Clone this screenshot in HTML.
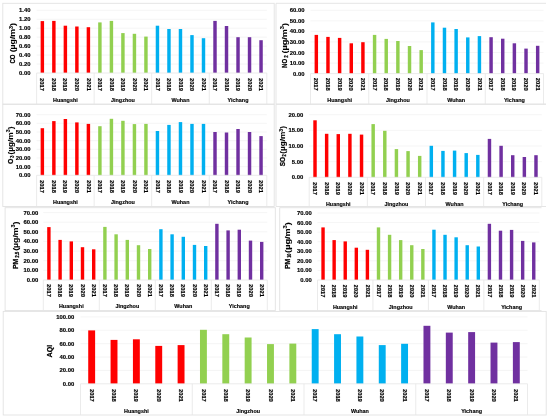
<!DOCTYPE html>
<html><head><meta charset="utf-8"><title>Air quality charts</title>
<style>
html,body{margin:0;padding:0;background:#fff;}
svg{display:block;}
text{font-family:"Liberation Sans","DejaVu Sans",sans-serif;font-weight:bold;fill:#000;stroke:#000;stroke-width:0.15px;}
.tk{font-size:5.9px;text-anchor:end;}
.yr{font-size:5.8px;text-anchor:middle;}
.gp{font-size:5.9px;text-anchor:middle;}
.tt{text-anchor:start;fill:#000;stroke-width:0.25px;}
.un{stroke-width:0.1px;}
.sub,.sup{font-size:4.6px;}
</style></head><body>
<svg width="550" height="420" viewBox="0 0 550 420">
<rect x="0" y="0" width="550" height="420" fill="#fff"/>

<g>
<rect x="2.80" y="3.30" width="271.40" height="100.90" fill="none" stroke="#e2e2e2" stroke-width="0.9"/>
<line x1="36.60" y1="64.04" x2="266.80" y2="64.04" stroke="#f0f0f0" stroke-width="0.7"/>
<line x1="36.60" y1="55.09" x2="266.80" y2="55.09" stroke="#f0f0f0" stroke-width="0.7"/>
<line x1="36.60" y1="46.13" x2="266.80" y2="46.13" stroke="#f0f0f0" stroke-width="0.7"/>
<line x1="36.60" y1="37.17" x2="266.80" y2="37.17" stroke="#f0f0f0" stroke-width="0.7"/>
<line x1="36.60" y1="28.21" x2="266.80" y2="28.21" stroke="#f0f0f0" stroke-width="0.7"/>
<line x1="36.60" y1="19.26" x2="266.80" y2="19.26" stroke="#f0f0f0" stroke-width="0.7"/>
<line x1="36.60" y1="10.30" x2="266.80" y2="10.30" stroke="#f0f0f0" stroke-width="0.7"/>
<text class="tk" x="30.50" y="75.00">0.00</text>
<text class="tk" x="30.50" y="66.04">0.20</text>
<text class="tk" x="30.50" y="57.09">0.40</text>
<text class="tk" x="30.50" y="48.13">0.60</text>
<text class="tk" x="30.50" y="39.17">0.80</text>
<text class="tk" x="30.50" y="30.21">1.00</text>
<text class="tk" x="30.50" y="21.26">1.20</text>
<text class="tk" x="30.50" y="12.30">1.40</text>
<rect x="40.63" y="21.10" width="3.45" height="51.90" fill="#FF0000"/>
<text class="yr" transform="translate(40.46,84.50) rotate(90)" x="0" y="0">2017</text>
<rect x="52.14" y="20.90" width="3.45" height="52.10" fill="#FF0000"/>
<text class="yr" transform="translate(51.97,84.50) rotate(90)" x="0" y="0">2018</text>
<rect x="63.65" y="25.70" width="3.45" height="47.30" fill="#FF0000"/>
<text class="yr" transform="translate(63.48,84.50) rotate(90)" x="0" y="0">2019</text>
<rect x="75.16" y="26.50" width="3.45" height="46.50" fill="#FF0000"/>
<text class="yr" transform="translate(74.98,84.50) rotate(90)" x="0" y="0">2020</text>
<rect x="86.67" y="27.20" width="3.45" height="45.80" fill="#FF0000"/>
<text class="yr" transform="translate(86.50,84.50) rotate(90)" x="0" y="0">2021</text>
<rect x="98.18" y="22.40" width="3.45" height="50.60" fill="#92D050"/>
<text class="yr" transform="translate(98.00,84.50) rotate(90)" x="0" y="0">2017</text>
<rect x="109.69" y="20.90" width="3.45" height="52.10" fill="#92D050"/>
<text class="yr" transform="translate(109.51,84.50) rotate(90)" x="0" y="0">2018</text>
<rect x="121.20" y="33.10" width="3.45" height="39.90" fill="#92D050"/>
<text class="yr" transform="translate(121.03,84.50) rotate(90)" x="0" y="0">2019</text>
<rect x="132.71" y="33.80" width="3.45" height="39.20" fill="#92D050"/>
<text class="yr" transform="translate(132.53,84.50) rotate(90)" x="0" y="0">2020</text>
<rect x="144.22" y="36.60" width="3.45" height="36.40" fill="#92D050"/>
<text class="yr" transform="translate(144.04,84.50) rotate(90)" x="0" y="0">2021</text>
<rect x="155.73" y="25.70" width="3.45" height="47.30" fill="#00B0F0"/>
<text class="yr" transform="translate(155.56,84.50) rotate(90)" x="0" y="0">2017</text>
<rect x="167.24" y="29.00" width="3.45" height="44.00" fill="#00B0F0"/>
<text class="yr" transform="translate(167.06,84.50) rotate(90)" x="0" y="0">2018</text>
<rect x="178.75" y="29.00" width="3.45" height="44.00" fill="#00B0F0"/>
<text class="yr" transform="translate(178.57,84.50) rotate(90)" x="0" y="0">2019</text>
<rect x="190.26" y="35.10" width="3.45" height="37.90" fill="#00B0F0"/>
<text class="yr" transform="translate(190.08,84.50) rotate(90)" x="0" y="0">2020</text>
<rect x="201.77" y="38.20" width="3.45" height="34.80" fill="#00B0F0"/>
<text class="yr" transform="translate(201.59,84.50) rotate(90)" x="0" y="0">2021</text>
<rect x="213.28" y="20.90" width="3.45" height="52.10" fill="#7030A0"/>
<text class="yr" transform="translate(213.10,84.50) rotate(90)" x="0" y="0">2017</text>
<rect x="224.79" y="26.00" width="3.45" height="47.00" fill="#7030A0"/>
<text class="yr" transform="translate(224.61,84.50) rotate(90)" x="0" y="0">2018</text>
<rect x="236.30" y="37.20" width="3.45" height="35.80" fill="#7030A0"/>
<text class="yr" transform="translate(236.12,84.50) rotate(90)" x="0" y="0">2019</text>
<rect x="247.81" y="37.20" width="3.45" height="35.80" fill="#7030A0"/>
<text class="yr" transform="translate(247.63,84.50) rotate(90)" x="0" y="0">2020</text>
<rect x="259.32" y="40.20" width="3.45" height="32.80" fill="#7030A0"/>
<text class="yr" transform="translate(259.15,84.50) rotate(90)" x="0" y="0">2021</text>
<line x1="36.60" y1="73.00" x2="266.80" y2="73.00" stroke="#e6e6e6" stroke-width="0.8"/>
<line x1="36.60" y1="73.00" x2="36.60" y2="104.20" stroke="#e6e6e6" stroke-width="0.8"/>
<line x1="94.15" y1="73.00" x2="94.15" y2="104.20" stroke="#e6e6e6" stroke-width="0.8"/>
<line x1="151.70" y1="73.00" x2="151.70" y2="104.20" stroke="#e6e6e6" stroke-width="0.8"/>
<line x1="209.25" y1="73.00" x2="209.25" y2="104.20" stroke="#e6e6e6" stroke-width="0.8"/>
<line x1="266.80" y1="73.00" x2="266.80" y2="104.20" stroke="#e6e6e6" stroke-width="0.8"/>
<text class="gp" transform="translate(65.38,102.00) scale(0.92,1)" x="0" y="0">Huangshi</text>
<text class="gp" transform="translate(122.92,102.00) scale(0.92,1)" x="0" y="0">Jingzhou</text>
<text class="gp" transform="translate(180.47,102.00) scale(0.92,1)" x="0" y="0">Wuhan</text>
<text class="gp" transform="translate(238.02,102.00) scale(0.92,1)" x="0" y="0">Yichang</text>
<text class="tt" id="t_CO_0"  font-size="8.0" transform="translate(15.10,63.60) rotate(-90) scale(0.767,1)" x="0" y="0">CO</text>
<text class="tt un" id="t_CO_1"  font-size="7.3" transform="translate(15.10,52.30) rotate(-90) scale(1.191,1)" x="0" y="0">(µg/m<tspan class="sup" dy="-2.6">3</tspan><tspan dy="2.6">)</tspan></text>
</g>
<g>
<path d="M546.00 3.30H276.00V104.20H546.00" fill="none" stroke="#e2e2e2" stroke-width="0.9"/>
<line x1="310.50" y1="63.05" x2="543.50" y2="63.05" stroke="#f0f0f0" stroke-width="0.7"/>
<line x1="310.50" y1="52.50" x2="543.50" y2="52.50" stroke="#f0f0f0" stroke-width="0.7"/>
<line x1="310.50" y1="41.95" x2="543.50" y2="41.95" stroke="#f0f0f0" stroke-width="0.7"/>
<line x1="310.50" y1="31.40" x2="543.50" y2="31.40" stroke="#f0f0f0" stroke-width="0.7"/>
<line x1="310.50" y1="20.85" x2="543.50" y2="20.85" stroke="#f0f0f0" stroke-width="0.7"/>
<line x1="310.50" y1="10.30" x2="543.50" y2="10.30" stroke="#f0f0f0" stroke-width="0.7"/>
<text class="tk" x="304.50" y="75.60">0.00</text>
<text class="tk" x="304.50" y="65.05">10.00</text>
<text class="tk" x="304.50" y="54.50">20.00</text>
<text class="tk" x="304.50" y="43.95">30.00</text>
<text class="tk" x="304.50" y="33.40">40.00</text>
<text class="tk" x="304.50" y="22.85">50.00</text>
<text class="tk" x="304.50" y="12.30">60.00</text>
<rect x="314.60" y="34.90" width="3.45" height="38.70" fill="#FF0000"/>
<text class="yr" transform="translate(314.43,84.30) rotate(90)" x="0" y="0">2017</text>
<rect x="326.25" y="36.90" width="3.45" height="36.70" fill="#FF0000"/>
<text class="yr" transform="translate(326.08,84.30) rotate(90)" x="0" y="0">2018</text>
<rect x="337.90" y="37.90" width="3.45" height="35.70" fill="#FF0000"/>
<text class="yr" transform="translate(337.73,84.30) rotate(90)" x="0" y="0">2019</text>
<rect x="349.55" y="43.30" width="3.45" height="30.30" fill="#FF0000"/>
<text class="yr" transform="translate(349.38,84.30) rotate(90)" x="0" y="0">2020</text>
<rect x="361.20" y="42.20" width="3.45" height="31.40" fill="#FF0000"/>
<text class="yr" transform="translate(361.03,84.30) rotate(90)" x="0" y="0">2021</text>
<rect x="372.85" y="34.90" width="3.45" height="38.70" fill="#92D050"/>
<text class="yr" transform="translate(372.68,84.30) rotate(90)" x="0" y="0">2017</text>
<rect x="384.50" y="38.90" width="3.45" height="34.70" fill="#92D050"/>
<text class="yr" transform="translate(384.33,84.30) rotate(90)" x="0" y="0">2018</text>
<rect x="396.15" y="41.00" width="3.45" height="32.60" fill="#92D050"/>
<text class="yr" transform="translate(395.98,84.30) rotate(90)" x="0" y="0">2019</text>
<rect x="407.80" y="46.00" width="3.45" height="27.60" fill="#92D050"/>
<text class="yr" transform="translate(407.62,84.30) rotate(90)" x="0" y="0">2020</text>
<rect x="419.45" y="50.10" width="3.45" height="23.50" fill="#92D050"/>
<text class="yr" transform="translate(419.28,84.30) rotate(90)" x="0" y="0">2021</text>
<rect x="431.10" y="22.40" width="3.45" height="51.20" fill="#00B0F0"/>
<text class="yr" transform="translate(430.93,84.30) rotate(90)" x="0" y="0">2017</text>
<rect x="442.75" y="27.70" width="3.45" height="45.90" fill="#00B0F0"/>
<text class="yr" transform="translate(442.58,84.30) rotate(90)" x="0" y="0">2018</text>
<rect x="454.40" y="29.00" width="3.45" height="44.60" fill="#00B0F0"/>
<text class="yr" transform="translate(454.23,84.30) rotate(90)" x="0" y="0">2019</text>
<rect x="466.05" y="37.40" width="3.45" height="36.20" fill="#00B0F0"/>
<text class="yr" transform="translate(465.88,84.30) rotate(90)" x="0" y="0">2020</text>
<rect x="477.70" y="36.10" width="3.45" height="37.50" fill="#00B0F0"/>
<text class="yr" transform="translate(477.53,84.30) rotate(90)" x="0" y="0">2021</text>
<rect x="489.35" y="37.20" width="3.45" height="36.40" fill="#7030A0"/>
<text class="yr" transform="translate(489.18,84.30) rotate(90)" x="0" y="0">2017</text>
<rect x="501.00" y="38.70" width="3.45" height="34.90" fill="#7030A0"/>
<text class="yr" transform="translate(500.83,84.30) rotate(90)" x="0" y="0">2018</text>
<rect x="512.65" y="43.30" width="3.45" height="30.30" fill="#7030A0"/>
<text class="yr" transform="translate(512.48,84.30) rotate(90)" x="0" y="0">2019</text>
<rect x="524.30" y="48.60" width="3.45" height="25.00" fill="#7030A0"/>
<text class="yr" transform="translate(524.12,84.30) rotate(90)" x="0" y="0">2020</text>
<rect x="535.95" y="45.80" width="3.45" height="27.80" fill="#7030A0"/>
<text class="yr" transform="translate(535.77,84.30) rotate(90)" x="0" y="0">2021</text>
<line x1="310.50" y1="73.60" x2="543.50" y2="73.60" stroke="#e6e6e6" stroke-width="0.8"/>
<line x1="310.50" y1="73.60" x2="310.50" y2="104.20" stroke="#e6e6e6" stroke-width="0.8"/>
<line x1="368.75" y1="73.60" x2="368.75" y2="104.20" stroke="#e6e6e6" stroke-width="0.8"/>
<line x1="427.00" y1="73.60" x2="427.00" y2="104.20" stroke="#e6e6e6" stroke-width="0.8"/>
<line x1="485.25" y1="73.60" x2="485.25" y2="104.20" stroke="#e6e6e6" stroke-width="0.8"/>
<line x1="543.50" y1="73.60" x2="543.50" y2="104.20" stroke="#e6e6e6" stroke-width="0.8"/>
<text class="gp" transform="translate(339.62,102.00) scale(0.92,1)" x="0" y="0">Huangshi</text>
<text class="gp" transform="translate(397.88,102.00) scale(0.92,1)" x="0" y="0">Jingzhou</text>
<text class="gp" transform="translate(456.12,102.00) scale(0.92,1)" x="0" y="0">Wuhan</text>
<text class="gp" transform="translate(514.38,102.00) scale(0.92,1)" x="0" y="0">Yichang</text>
<text class="tt" id="t_NO2_0"  font-size="8.0" transform="translate(286.90,67.90) rotate(-90) scale(0.767,1)" x="0" y="0">NO</text>
<text class="tt" id="t_NO2_1"  font-size="4.8" transform="translate(288.20,57.70) rotate(-90) scale(0.898,1)" x="0" y="0">2</text>
<text class="tt un" id="t_NO2_2"  font-size="7.3" transform="translate(286.90,53.60) rotate(-90) scale(1.243,1)" x="0" y="0">(µg/m<tspan class="sup" dy="-2.6">3</tspan><tspan dy="2.6">)</tspan></text>
</g>
<g>
<rect x="2.80" y="104.20" width="271.40" height="102.30" fill="none" stroke="#e2e2e2" stroke-width="0.9"/>
<line x1="36.60" y1="166.64" x2="266.80" y2="166.64" stroke="#f0f0f0" stroke-width="0.7"/>
<line x1="36.60" y1="157.99" x2="266.80" y2="157.99" stroke="#f0f0f0" stroke-width="0.7"/>
<line x1="36.60" y1="149.33" x2="266.80" y2="149.33" stroke="#f0f0f0" stroke-width="0.7"/>
<line x1="36.60" y1="140.67" x2="266.80" y2="140.67" stroke="#f0f0f0" stroke-width="0.7"/>
<line x1="36.60" y1="132.01" x2="266.80" y2="132.01" stroke="#f0f0f0" stroke-width="0.7"/>
<line x1="36.60" y1="123.36" x2="266.80" y2="123.36" stroke="#f0f0f0" stroke-width="0.7"/>
<line x1="36.60" y1="114.70" x2="266.80" y2="114.70" stroke="#f0f0f0" stroke-width="0.7"/>
<text class="tk" x="30.50" y="177.30">0.00</text>
<text class="tk" x="30.50" y="168.64">10.00</text>
<text class="tk" x="30.50" y="159.99">20.00</text>
<text class="tk" x="30.50" y="151.33">30.00</text>
<text class="tk" x="30.50" y="142.67">40.00</text>
<text class="tk" x="30.50" y="134.01">50.00</text>
<text class="tk" x="30.50" y="125.36">60.00</text>
<text class="tk" x="30.50" y="116.70">70.00</text>
<rect x="40.63" y="128.20" width="3.45" height="47.10" fill="#FF0000"/>
<text class="yr" transform="translate(40.46,186.50) rotate(90)" x="0" y="0">2017</text>
<rect x="52.14" y="121.10" width="3.45" height="54.20" fill="#FF0000"/>
<text class="yr" transform="translate(51.97,186.50) rotate(90)" x="0" y="0">2018</text>
<rect x="63.65" y="119.00" width="3.45" height="56.30" fill="#FF0000"/>
<text class="yr" transform="translate(63.48,186.50) rotate(90)" x="0" y="0">2019</text>
<rect x="75.16" y="122.40" width="3.45" height="52.90" fill="#FF0000"/>
<text class="yr" transform="translate(74.98,186.50) rotate(90)" x="0" y="0">2020</text>
<rect x="86.67" y="123.90" width="3.45" height="51.40" fill="#FF0000"/>
<text class="yr" transform="translate(86.50,186.50) rotate(90)" x="0" y="0">2021</text>
<rect x="98.18" y="126.20" width="3.45" height="49.10" fill="#92D050"/>
<text class="yr" transform="translate(98.00,186.50) rotate(90)" x="0" y="0">2017</text>
<rect x="109.69" y="118.80" width="3.45" height="56.50" fill="#92D050"/>
<text class="yr" transform="translate(109.51,186.50) rotate(90)" x="0" y="0">2018</text>
<rect x="121.20" y="120.80" width="3.45" height="54.50" fill="#92D050"/>
<text class="yr" transform="translate(121.03,186.50) rotate(90)" x="0" y="0">2019</text>
<rect x="132.71" y="124.10" width="3.45" height="51.20" fill="#92D050"/>
<text class="yr" transform="translate(132.53,186.50) rotate(90)" x="0" y="0">2020</text>
<rect x="144.22" y="123.90" width="3.45" height="51.40" fill="#92D050"/>
<text class="yr" transform="translate(144.04,186.50) rotate(90)" x="0" y="0">2021</text>
<rect x="155.73" y="131.00" width="3.45" height="44.30" fill="#00B0F0"/>
<text class="yr" transform="translate(155.56,186.50) rotate(90)" x="0" y="0">2017</text>
<rect x="167.24" y="124.90" width="3.45" height="50.40" fill="#00B0F0"/>
<text class="yr" transform="translate(167.06,186.50) rotate(90)" x="0" y="0">2018</text>
<rect x="178.75" y="122.10" width="3.45" height="53.20" fill="#00B0F0"/>
<text class="yr" transform="translate(178.57,186.50) rotate(90)" x="0" y="0">2019</text>
<rect x="190.26" y="123.90" width="3.45" height="51.40" fill="#00B0F0"/>
<text class="yr" transform="translate(190.08,186.50) rotate(90)" x="0" y="0">2020</text>
<rect x="201.77" y="123.90" width="3.45" height="51.40" fill="#00B0F0"/>
<text class="yr" transform="translate(201.59,186.50) rotate(90)" x="0" y="0">2021</text>
<rect x="213.28" y="132.00" width="3.45" height="43.30" fill="#7030A0"/>
<text class="yr" transform="translate(213.10,186.50) rotate(90)" x="0" y="0">2017</text>
<rect x="224.79" y="132.50" width="3.45" height="42.80" fill="#7030A0"/>
<text class="yr" transform="translate(224.61,186.50) rotate(90)" x="0" y="0">2018</text>
<rect x="236.30" y="129.00" width="3.45" height="46.30" fill="#7030A0"/>
<text class="yr" transform="translate(236.12,186.50) rotate(90)" x="0" y="0">2019</text>
<rect x="247.81" y="132.00" width="3.45" height="43.30" fill="#7030A0"/>
<text class="yr" transform="translate(247.63,186.50) rotate(90)" x="0" y="0">2020</text>
<rect x="259.32" y="136.10" width="3.45" height="39.20" fill="#7030A0"/>
<text class="yr" transform="translate(259.15,186.50) rotate(90)" x="0" y="0">2021</text>
<line x1="36.60" y1="175.30" x2="266.80" y2="175.30" stroke="#e6e6e6" stroke-width="0.8"/>
<line x1="36.60" y1="175.30" x2="36.60" y2="206.50" stroke="#e6e6e6" stroke-width="0.8"/>
<line x1="94.15" y1="175.30" x2="94.15" y2="206.50" stroke="#e6e6e6" stroke-width="0.8"/>
<line x1="151.70" y1="175.30" x2="151.70" y2="206.50" stroke="#e6e6e6" stroke-width="0.8"/>
<line x1="209.25" y1="175.30" x2="209.25" y2="206.50" stroke="#e6e6e6" stroke-width="0.8"/>
<line x1="266.80" y1="175.30" x2="266.80" y2="206.50" stroke="#e6e6e6" stroke-width="0.8"/>
<text class="gp" transform="translate(65.38,204.40) scale(0.92,1)" x="0" y="0">Huangshi</text>
<text class="gp" transform="translate(122.92,204.40) scale(0.92,1)" x="0" y="0">Jingzhou</text>
<text class="gp" transform="translate(180.47,204.40) scale(0.92,1)" x="0" y="0">Wuhan</text>
<text class="gp" transform="translate(238.02,204.40) scale(0.92,1)" x="0" y="0">Yichang</text>
<text class="tt" id="t_O3_0"  font-size="8.0" transform="translate(12.90,163.90) rotate(-90) scale(0.866,1)" x="0" y="0">O</text>
<text class="tt" id="t_O3_1"  font-size="4.8" transform="translate(14.20,157.70) rotate(-90) scale(0.823,1)" x="0" y="0">3</text>
<text class="tt un" id="t_O3_2"  font-size="7.3" transform="translate(12.90,154.50) rotate(-90) scale(1.134,1)" x="0" y="0">(µg/m<tspan class="sup" dy="-2.6">3</tspan><tspan dy="2.6">)</tspan></text>
</g>
<g>
<path d="M546.00 104.20H276.00V206.50H546.00" fill="none" stroke="#e2e2e2" stroke-width="0.9"/>
<line x1="309.20" y1="161.65" x2="541.80" y2="161.65" stroke="#f0f0f0" stroke-width="0.7"/>
<line x1="309.20" y1="146.00" x2="541.80" y2="146.00" stroke="#f0f0f0" stroke-width="0.7"/>
<line x1="309.20" y1="130.35" x2="541.80" y2="130.35" stroke="#f0f0f0" stroke-width="0.7"/>
<line x1="309.20" y1="114.70" x2="541.80" y2="114.70" stroke="#f0f0f0" stroke-width="0.7"/>
<text class="tk" x="303.20" y="179.30">0.00</text>
<text class="tk" x="303.20" y="163.65">5.00</text>
<text class="tk" x="303.20" y="148.00">10.00</text>
<text class="tk" x="303.20" y="132.35">15.00</text>
<text class="tk" x="303.20" y="116.70">20.00</text>
<rect x="313.29" y="120.30" width="3.45" height="57.00" fill="#FF0000"/>
<text class="yr" transform="translate(313.12,188.50) rotate(90)" x="0" y="0">2017</text>
<rect x="324.92" y="133.80" width="3.45" height="43.50" fill="#FF0000"/>
<text class="yr" transform="translate(324.75,188.50) rotate(90)" x="0" y="0">2018</text>
<rect x="336.55" y="134.10" width="3.45" height="43.20" fill="#FF0000"/>
<text class="yr" transform="translate(336.38,188.50) rotate(90)" x="0" y="0">2019</text>
<rect x="348.18" y="133.80" width="3.45" height="43.50" fill="#FF0000"/>
<text class="yr" transform="translate(348.00,188.50) rotate(90)" x="0" y="0">2020</text>
<rect x="359.81" y="134.60" width="3.45" height="42.70" fill="#FF0000"/>
<text class="yr" transform="translate(359.63,188.50) rotate(90)" x="0" y="0">2021</text>
<rect x="371.44" y="124.10" width="3.45" height="53.20" fill="#92D050"/>
<text class="yr" transform="translate(371.26,188.50) rotate(90)" x="0" y="0">2017</text>
<rect x="383.07" y="130.80" width="3.45" height="46.50" fill="#92D050"/>
<text class="yr" transform="translate(382.89,188.50) rotate(90)" x="0" y="0">2018</text>
<rect x="394.70" y="149.10" width="3.45" height="28.20" fill="#92D050"/>
<text class="yr" transform="translate(394.52,188.50) rotate(90)" x="0" y="0">2019</text>
<rect x="406.33" y="151.10" width="3.45" height="26.20" fill="#92D050"/>
<text class="yr" transform="translate(406.15,188.50) rotate(90)" x="0" y="0">2020</text>
<rect x="417.96" y="155.90" width="3.45" height="21.40" fill="#92D050"/>
<text class="yr" transform="translate(417.78,188.50) rotate(90)" x="0" y="0">2021</text>
<rect x="429.59" y="145.80" width="3.45" height="31.50" fill="#00B0F0"/>
<text class="yr" transform="translate(429.42,188.50) rotate(90)" x="0" y="0">2017</text>
<rect x="441.22" y="150.90" width="3.45" height="26.40" fill="#00B0F0"/>
<text class="yr" transform="translate(441.04,188.50) rotate(90)" x="0" y="0">2018</text>
<rect x="452.85" y="150.60" width="3.45" height="26.70" fill="#00B0F0"/>
<text class="yr" transform="translate(452.68,188.50) rotate(90)" x="0" y="0">2019</text>
<rect x="464.48" y="153.10" width="3.45" height="24.20" fill="#00B0F0"/>
<text class="yr" transform="translate(464.31,188.50) rotate(90)" x="0" y="0">2020</text>
<rect x="476.11" y="154.90" width="3.45" height="22.40" fill="#00B0F0"/>
<text class="yr" transform="translate(475.94,188.50) rotate(90)" x="0" y="0">2021</text>
<rect x="487.74" y="138.90" width="3.45" height="38.40" fill="#7030A0"/>
<text class="yr" transform="translate(487.56,188.50) rotate(90)" x="0" y="0">2017</text>
<rect x="499.37" y="145.80" width="3.45" height="31.50" fill="#7030A0"/>
<text class="yr" transform="translate(499.19,188.50) rotate(90)" x="0" y="0">2018</text>
<rect x="511.00" y="155.20" width="3.45" height="22.10" fill="#7030A0"/>
<text class="yr" transform="translate(510.82,188.50) rotate(90)" x="0" y="0">2019</text>
<rect x="522.63" y="157.00" width="3.45" height="20.30" fill="#7030A0"/>
<text class="yr" transform="translate(522.46,188.50) rotate(90)" x="0" y="0">2020</text>
<rect x="534.26" y="155.20" width="3.45" height="22.10" fill="#7030A0"/>
<text class="yr" transform="translate(534.08,188.50) rotate(90)" x="0" y="0">2021</text>
<line x1="309.20" y1="177.30" x2="541.80" y2="177.30" stroke="#e6e6e6" stroke-width="0.8"/>
<line x1="309.20" y1="177.30" x2="309.20" y2="206.50" stroke="#e6e6e6" stroke-width="0.8"/>
<line x1="367.35" y1="177.30" x2="367.35" y2="206.50" stroke="#e6e6e6" stroke-width="0.8"/>
<line x1="425.50" y1="177.30" x2="425.50" y2="206.50" stroke="#e6e6e6" stroke-width="0.8"/>
<line x1="483.65" y1="177.30" x2="483.65" y2="206.50" stroke="#e6e6e6" stroke-width="0.8"/>
<line x1="541.80" y1="177.30" x2="541.80" y2="206.50" stroke="#e6e6e6" stroke-width="0.8"/>
<text class="gp" transform="translate(338.27,205.50) scale(0.92,1)" x="0" y="0">Huangshi</text>
<text class="gp" transform="translate(396.42,205.50) scale(0.92,1)" x="0" y="0">Jingzhou</text>
<text class="gp" transform="translate(454.57,205.50) scale(0.92,1)" x="0" y="0">Wuhan</text>
<text class="gp" transform="translate(512.73,205.50) scale(0.92,1)" x="0" y="0">Yichang</text>
<text class="tt" id="t_SO2_0"  font-size="8.0" transform="translate(285.10,166.30) rotate(-90) scale(0.804,1)" x="0" y="0">SO</text>
<text class="tt" id="t_SO2_1"  font-size="4.8" transform="translate(286.40,156.40) rotate(-90) scale(0.786,1)" x="0" y="0">2</text>
<text class="tt un" id="t_SO2_2"  font-size="7.3" transform="translate(285.10,153.80) rotate(-90) scale(1.126,1)" x="0" y="0">(µg/m<tspan class="sup" dy="-2.6">3</tspan><tspan dy="2.6">)</tspan></text>
</g>
<g>
<rect x="5.10" y="207.70" width="270.20" height="102.90" fill="none" stroke="#e2e2e2" stroke-width="0.9"/>
<line x1="43.30" y1="270.37" x2="267.30" y2="270.37" stroke="#f0f0f0" stroke-width="0.7"/>
<line x1="43.30" y1="260.74" x2="267.30" y2="260.74" stroke="#f0f0f0" stroke-width="0.7"/>
<line x1="43.30" y1="251.11" x2="267.30" y2="251.11" stroke="#f0f0f0" stroke-width="0.7"/>
<line x1="43.30" y1="241.49" x2="267.30" y2="241.49" stroke="#f0f0f0" stroke-width="0.7"/>
<line x1="43.30" y1="231.86" x2="267.30" y2="231.86" stroke="#f0f0f0" stroke-width="0.7"/>
<line x1="43.30" y1="222.23" x2="267.30" y2="222.23" stroke="#f0f0f0" stroke-width="0.7"/>
<line x1="43.30" y1="212.60" x2="267.30" y2="212.60" stroke="#f0f0f0" stroke-width="0.7"/>
<text class="tk" x="38.20" y="282.00">0.00</text>
<text class="tk" x="38.20" y="272.37">10.00</text>
<text class="tk" x="38.20" y="262.74">20.00</text>
<text class="tk" x="38.20" y="253.11">30.00</text>
<text class="tk" x="38.20" y="243.49">40.00</text>
<text class="tk" x="38.20" y="233.86">50.00</text>
<text class="tk" x="38.20" y="224.23">60.00</text>
<text class="tk" x="38.20" y="214.60">70.00</text>
<rect x="47.20" y="227.10" width="3.40" height="52.90" fill="#FF0000"/>
<text class="yr" transform="translate(47.00,290.50) rotate(90)" x="0" y="0">2017</text>
<rect x="58.40" y="239.90" width="3.40" height="40.10" fill="#FF0000"/>
<text class="yr" transform="translate(58.20,290.50) rotate(90)" x="0" y="0">2018</text>
<rect x="69.60" y="241.40" width="3.40" height="38.60" fill="#FF0000"/>
<text class="yr" transform="translate(69.40,290.50) rotate(90)" x="0" y="0">2019</text>
<rect x="80.80" y="247.20" width="3.40" height="32.80" fill="#FF0000"/>
<text class="yr" transform="translate(80.60,290.50) rotate(90)" x="0" y="0">2020</text>
<rect x="92.00" y="249.30" width="3.40" height="30.70" fill="#FF0000"/>
<text class="yr" transform="translate(91.80,290.50) rotate(90)" x="0" y="0">2021</text>
<rect x="103.20" y="226.90" width="3.40" height="53.10" fill="#92D050"/>
<text class="yr" transform="translate(103.00,290.50) rotate(90)" x="0" y="0">2017</text>
<rect x="114.40" y="234.30" width="3.40" height="45.70" fill="#92D050"/>
<text class="yr" transform="translate(114.20,290.50) rotate(90)" x="0" y="0">2018</text>
<rect x="125.60" y="239.90" width="3.40" height="40.10" fill="#92D050"/>
<text class="yr" transform="translate(125.40,290.50) rotate(90)" x="0" y="0">2019</text>
<rect x="136.80" y="245.20" width="3.40" height="34.80" fill="#92D050"/>
<text class="yr" transform="translate(136.60,290.50) rotate(90)" x="0" y="0">2020</text>
<rect x="148.00" y="249.00" width="3.40" height="31.00" fill="#92D050"/>
<text class="yr" transform="translate(147.80,290.50) rotate(90)" x="0" y="0">2021</text>
<rect x="159.20" y="229.20" width="3.40" height="50.80" fill="#00B0F0"/>
<text class="yr" transform="translate(159.00,290.50) rotate(90)" x="0" y="0">2017</text>
<rect x="170.40" y="234.30" width="3.40" height="45.70" fill="#00B0F0"/>
<text class="yr" transform="translate(170.20,290.50) rotate(90)" x="0" y="0">2018</text>
<rect x="181.60" y="236.80" width="3.40" height="43.20" fill="#00B0F0"/>
<text class="yr" transform="translate(181.40,290.50) rotate(90)" x="0" y="0">2019</text>
<rect x="192.80" y="244.90" width="3.40" height="35.10" fill="#00B0F0"/>
<text class="yr" transform="translate(192.60,290.50) rotate(90)" x="0" y="0">2020</text>
<rect x="204.00" y="246.00" width="3.40" height="34.00" fill="#00B0F0"/>
<text class="yr" transform="translate(203.80,290.50) rotate(90)" x="0" y="0">2021</text>
<rect x="215.20" y="223.80" width="3.40" height="56.20" fill="#7030A0"/>
<text class="yr" transform="translate(215.00,290.50) rotate(90)" x="0" y="0">2017</text>
<rect x="226.40" y="230.40" width="3.40" height="49.60" fill="#7030A0"/>
<text class="yr" transform="translate(226.20,290.50) rotate(90)" x="0" y="0">2018</text>
<rect x="237.60" y="229.70" width="3.40" height="50.30" fill="#7030A0"/>
<text class="yr" transform="translate(237.40,290.50) rotate(90)" x="0" y="0">2019</text>
<rect x="248.80" y="240.60" width="3.40" height="39.40" fill="#7030A0"/>
<text class="yr" transform="translate(248.60,290.50) rotate(90)" x="0" y="0">2020</text>
<rect x="260.00" y="241.90" width="3.40" height="38.10" fill="#7030A0"/>
<text class="yr" transform="translate(259.80,290.50) rotate(90)" x="0" y="0">2021</text>
<line x1="43.30" y1="280.00" x2="267.30" y2="280.00" stroke="#e6e6e6" stroke-width="0.8"/>
<line x1="43.30" y1="280.00" x2="43.30" y2="310.60" stroke="#e6e6e6" stroke-width="0.8"/>
<line x1="99.30" y1="280.00" x2="99.30" y2="310.60" stroke="#e6e6e6" stroke-width="0.8"/>
<line x1="155.30" y1="280.00" x2="155.30" y2="310.60" stroke="#e6e6e6" stroke-width="0.8"/>
<line x1="211.30" y1="280.00" x2="211.30" y2="310.60" stroke="#e6e6e6" stroke-width="0.8"/>
<line x1="267.30" y1="280.00" x2="267.30" y2="310.60" stroke="#e6e6e6" stroke-width="0.8"/>
<text class="gp" transform="translate(71.30,308.00) scale(0.92,1)" x="0" y="0">Huangshi</text>
<text class="gp" transform="translate(127.30,308.00) scale(0.92,1)" x="0" y="0">Jingzhou</text>
<text class="gp" transform="translate(183.30,308.00) scale(0.92,1)" x="0" y="0">Wuhan</text>
<text class="gp" transform="translate(239.30,308.00) scale(0.92,1)" x="0" y="0">Yichang</text>
<text class="tt" id="t_PM25_0"  font-size="8.0" transform="translate(17.50,269.10) rotate(-90) scale(0.867,1)" x="0" y="0">PM</text>
<text class="tt" id="t_PM25_1"  font-size="4.8" transform="translate(18.80,257.80) rotate(-90) scale(0.914,1)" x="0" y="0">2.5</text>
<text class="tt un" id="t_PM25_2"  font-size="7.3" transform="translate(17.50,250.80) rotate(-90) scale(1.191,1)" x="0" y="0">(µg/m<tspan class="sup" dy="-2.6">3</tspan><tspan dy="2.6">)</tspan></text>
</g>
<g>
<path d="M541.50 207.70H279.70V310.60H541.50" fill="none" stroke="#e2e2e2" stroke-width="0.9"/>
<line x1="317.50" y1="270.43" x2="539.30" y2="270.43" stroke="#f0f0f0" stroke-width="0.7"/>
<line x1="317.50" y1="260.86" x2="539.30" y2="260.86" stroke="#f0f0f0" stroke-width="0.7"/>
<line x1="317.50" y1="251.29" x2="539.30" y2="251.29" stroke="#f0f0f0" stroke-width="0.7"/>
<line x1="317.50" y1="241.71" x2="539.30" y2="241.71" stroke="#f0f0f0" stroke-width="0.7"/>
<line x1="317.50" y1="232.14" x2="539.30" y2="232.14" stroke="#f0f0f0" stroke-width="0.7"/>
<line x1="317.50" y1="222.57" x2="539.30" y2="222.57" stroke="#f0f0f0" stroke-width="0.7"/>
<line x1="317.50" y1="213.00" x2="539.30" y2="213.00" stroke="#f0f0f0" stroke-width="0.7"/>
<text class="tk" x="311.70" y="282.00">0.00</text>
<text class="tk" x="311.70" y="272.43">10.00</text>
<text class="tk" x="311.70" y="262.86">20.00</text>
<text class="tk" x="311.70" y="253.29">30.00</text>
<text class="tk" x="311.70" y="243.71">40.00</text>
<text class="tk" x="311.70" y="234.14">50.00</text>
<text class="tk" x="311.70" y="224.57">60.00</text>
<text class="tk" x="311.70" y="215.00">70.00</text>
<rect x="321.35" y="227.40" width="3.40" height="52.60" fill="#FF0000"/>
<text class="yr" transform="translate(321.15,291.00) rotate(90)" x="0" y="0">2017</text>
<rect x="332.44" y="240.10" width="3.40" height="39.90" fill="#FF0000"/>
<text class="yr" transform="translate(332.24,291.00) rotate(90)" x="0" y="0">2018</text>
<rect x="343.53" y="241.40" width="3.40" height="38.60" fill="#FF0000"/>
<text class="yr" transform="translate(343.33,291.00) rotate(90)" x="0" y="0">2019</text>
<rect x="354.62" y="247.70" width="3.40" height="32.30" fill="#FF0000"/>
<text class="yr" transform="translate(354.42,291.00) rotate(90)" x="0" y="0">2020</text>
<rect x="365.70" y="249.80" width="3.40" height="30.20" fill="#FF0000"/>
<text class="yr" transform="translate(365.50,291.00) rotate(90)" x="0" y="0">2021</text>
<rect x="376.80" y="227.40" width="3.40" height="52.60" fill="#92D050"/>
<text class="yr" transform="translate(376.60,291.00) rotate(90)" x="0" y="0">2017</text>
<rect x="387.88" y="234.80" width="3.40" height="45.20" fill="#92D050"/>
<text class="yr" transform="translate(387.69,291.00) rotate(90)" x="0" y="0">2018</text>
<rect x="398.98" y="240.10" width="3.40" height="39.90" fill="#92D050"/>
<text class="yr" transform="translate(398.78,291.00) rotate(90)" x="0" y="0">2019</text>
<rect x="410.06" y="245.20" width="3.40" height="34.80" fill="#92D050"/>
<text class="yr" transform="translate(409.87,291.00) rotate(90)" x="0" y="0">2020</text>
<rect x="421.16" y="249.00" width="3.40" height="31.00" fill="#92D050"/>
<text class="yr" transform="translate(420.96,291.00) rotate(90)" x="0" y="0">2021</text>
<rect x="432.25" y="229.70" width="3.40" height="50.30" fill="#00B0F0"/>
<text class="yr" transform="translate(432.05,291.00) rotate(90)" x="0" y="0">2017</text>
<rect x="443.33" y="234.80" width="3.40" height="45.20" fill="#00B0F0"/>
<text class="yr" transform="translate(443.13,291.00) rotate(90)" x="0" y="0">2018</text>
<rect x="454.43" y="237.30" width="3.40" height="42.70" fill="#00B0F0"/>
<text class="yr" transform="translate(454.23,291.00) rotate(90)" x="0" y="0">2019</text>
<rect x="465.52" y="245.20" width="3.40" height="34.80" fill="#00B0F0"/>
<text class="yr" transform="translate(465.32,291.00) rotate(90)" x="0" y="0">2020</text>
<rect x="476.61" y="246.50" width="3.40" height="33.50" fill="#00B0F0"/>
<text class="yr" transform="translate(476.41,291.00) rotate(90)" x="0" y="0">2021</text>
<rect x="487.69" y="223.80" width="3.40" height="56.20" fill="#7030A0"/>
<text class="yr" transform="translate(487.50,291.00) rotate(90)" x="0" y="0">2017</text>
<rect x="498.79" y="230.70" width="3.40" height="49.30" fill="#7030A0"/>
<text class="yr" transform="translate(498.59,291.00) rotate(90)" x="0" y="0">2018</text>
<rect x="509.88" y="229.90" width="3.40" height="50.10" fill="#7030A0"/>
<text class="yr" transform="translate(509.68,291.00) rotate(90)" x="0" y="0">2019</text>
<rect x="520.96" y="240.90" width="3.40" height="39.10" fill="#7030A0"/>
<text class="yr" transform="translate(520.76,291.00) rotate(90)" x="0" y="0">2020</text>
<rect x="532.05" y="242.40" width="3.40" height="37.60" fill="#7030A0"/>
<text class="yr" transform="translate(531.86,291.00) rotate(90)" x="0" y="0">2021</text>
<line x1="317.50" y1="280.00" x2="539.30" y2="280.00" stroke="#e6e6e6" stroke-width="0.8"/>
<line x1="317.50" y1="280.00" x2="317.50" y2="310.60" stroke="#e6e6e6" stroke-width="0.8"/>
<line x1="372.95" y1="280.00" x2="372.95" y2="310.60" stroke="#e6e6e6" stroke-width="0.8"/>
<line x1="428.40" y1="280.00" x2="428.40" y2="310.60" stroke="#e6e6e6" stroke-width="0.8"/>
<line x1="483.85" y1="280.00" x2="483.85" y2="310.60" stroke="#e6e6e6" stroke-width="0.8"/>
<line x1="539.30" y1="280.00" x2="539.30" y2="310.60" stroke="#e6e6e6" stroke-width="0.8"/>
<text class="gp" transform="translate(345.23,308.70) scale(0.92,1)" x="0" y="0">Huangshi</text>
<text class="gp" transform="translate(400.68,308.70) scale(0.92,1)" x="0" y="0">Jingzhou</text>
<text class="gp" transform="translate(456.12,308.70) scale(0.92,1)" x="0" y="0">Wuhan</text>
<text class="gp" transform="translate(511.58,308.70) scale(0.92,1)" x="0" y="0">Yichang</text>
<text class="tt" id="t_PM10_0"  font-size="8.0" transform="translate(289.70,269.10) rotate(-90) scale(0.867,1)" x="0" y="0">PM</text>
<text class="tt" id="t_PM10_1"  font-size="4.8" transform="translate(291.00,257.80) rotate(-90) scale(0.767,1)" x="0" y="0">10</text>
<text class="tt un" id="t_PM10_2"  font-size="7.3" transform="translate(289.70,252.90) rotate(-90) scale(1.247,1)" x="0" y="0">(µg/m<tspan class="sup" dy="-2.6">3</tspan><tspan dy="2.6">)</tspan></text>
</g>
<g>
<rect x="3.20" y="311.40" width="543.00" height="103.60" fill="none" stroke="#e2e2e2" stroke-width="0.9"/>
<line x1="80.50" y1="370.42" x2="527.50" y2="370.42" stroke="#f0f0f0" stroke-width="0.7"/>
<line x1="80.50" y1="357.04" x2="527.50" y2="357.04" stroke="#f0f0f0" stroke-width="0.7"/>
<line x1="80.50" y1="343.66" x2="527.50" y2="343.66" stroke="#f0f0f0" stroke-width="0.7"/>
<line x1="80.50" y1="330.28" x2="527.50" y2="330.28" stroke="#f0f0f0" stroke-width="0.7"/>
<line x1="80.50" y1="316.90" x2="527.50" y2="316.90" stroke="#f0f0f0" stroke-width="0.7"/>
<text class="tk" x="74.30" y="385.80">0.00</text>
<text class="tk" x="74.30" y="372.42">20.00</text>
<text class="tk" x="74.30" y="359.04">40.00</text>
<text class="tk" x="74.30" y="345.66">60.00</text>
<text class="tk" x="74.30" y="332.28">80.00</text>
<text class="tk" x="74.30" y="318.90">100.00</text>
<rect x="88.22" y="330.40" width="6.90" height="53.40" fill="#FF0000"/>
<text class="yr" transform="translate(89.77,395.40) rotate(90)" x="0" y="0">2017</text>
<rect x="110.58" y="339.90" width="6.90" height="43.90" fill="#FF0000"/>
<text class="yr" transform="translate(112.12,395.40) rotate(90)" x="0" y="0">2018</text>
<rect x="132.93" y="339.30" width="6.90" height="44.50" fill="#FF0000"/>
<text class="yr" transform="translate(134.47,395.40) rotate(90)" x="0" y="0">2019</text>
<rect x="155.28" y="345.90" width="6.90" height="37.90" fill="#FF0000"/>
<text class="yr" transform="translate(156.83,395.40) rotate(90)" x="0" y="0">2020</text>
<rect x="177.62" y="345.10" width="6.90" height="38.70" fill="#FF0000"/>
<text class="yr" transform="translate(179.17,395.40) rotate(90)" x="0" y="0">2021</text>
<rect x="199.98" y="329.80" width="6.90" height="54.00" fill="#92D050"/>
<text class="yr" transform="translate(201.53,395.40) rotate(90)" x="0" y="0">2017</text>
<rect x="222.33" y="334.20" width="6.90" height="49.60" fill="#92D050"/>
<text class="yr" transform="translate(223.88,395.40) rotate(90)" x="0" y="0">2018</text>
<rect x="244.68" y="337.50" width="6.90" height="46.30" fill="#92D050"/>
<text class="yr" transform="translate(246.22,395.40) rotate(90)" x="0" y="0">2019</text>
<rect x="267.03" y="344.10" width="6.90" height="39.70" fill="#92D050"/>
<text class="yr" transform="translate(268.58,395.40) rotate(90)" x="0" y="0">2020</text>
<rect x="289.38" y="343.60" width="6.90" height="40.20" fill="#92D050"/>
<text class="yr" transform="translate(290.93,395.40) rotate(90)" x="0" y="0">2021</text>
<rect x="311.73" y="329.10" width="6.90" height="54.70" fill="#00B0F0"/>
<text class="yr" transform="translate(313.28,395.40) rotate(90)" x="0" y="0">2017</text>
<rect x="334.08" y="334.20" width="6.90" height="49.60" fill="#00B0F0"/>
<text class="yr" transform="translate(335.63,395.40) rotate(90)" x="0" y="0">2018</text>
<rect x="356.43" y="336.50" width="6.90" height="47.30" fill="#00B0F0"/>
<text class="yr" transform="translate(357.98,395.40) rotate(90)" x="0" y="0">2019</text>
<rect x="378.78" y="345.10" width="6.90" height="38.70" fill="#00B0F0"/>
<text class="yr" transform="translate(380.33,395.40) rotate(90)" x="0" y="0">2020</text>
<rect x="401.13" y="343.80" width="6.90" height="40.00" fill="#00B0F0"/>
<text class="yr" transform="translate(402.68,395.40) rotate(90)" x="0" y="0">2021</text>
<rect x="423.48" y="325.80" width="6.90" height="58.00" fill="#7030A0"/>
<text class="yr" transform="translate(425.03,395.40) rotate(90)" x="0" y="0">2017</text>
<rect x="445.83" y="332.60" width="6.90" height="51.20" fill="#7030A0"/>
<text class="yr" transform="translate(447.38,395.40) rotate(90)" x="0" y="0">2018</text>
<rect x="468.18" y="332.10" width="6.90" height="51.70" fill="#7030A0"/>
<text class="yr" transform="translate(469.73,395.40) rotate(90)" x="0" y="0">2019</text>
<rect x="490.53" y="342.60" width="6.90" height="41.20" fill="#7030A0"/>
<text class="yr" transform="translate(492.08,395.40) rotate(90)" x="0" y="0">2020</text>
<rect x="512.88" y="342.10" width="6.90" height="41.70" fill="#7030A0"/>
<text class="yr" transform="translate(514.43,395.40) rotate(90)" x="0" y="0">2021</text>
<line x1="80.50" y1="383.80" x2="527.50" y2="383.80" stroke="#e6e6e6" stroke-width="0.8"/>
<line x1="80.50" y1="383.80" x2="80.50" y2="415.00" stroke="#e6e6e6" stroke-width="0.8"/>
<line x1="192.25" y1="383.80" x2="192.25" y2="415.00" stroke="#e6e6e6" stroke-width="0.8"/>
<line x1="304.00" y1="383.80" x2="304.00" y2="415.00" stroke="#e6e6e6" stroke-width="0.8"/>
<line x1="415.75" y1="383.80" x2="415.75" y2="415.00" stroke="#e6e6e6" stroke-width="0.8"/>
<line x1="527.50" y1="383.80" x2="527.50" y2="415.00" stroke="#e6e6e6" stroke-width="0.8"/>
<text class="gp" transform="translate(136.38,412.50) scale(0.92,1)" x="0" y="0">Huangshi</text>
<text class="gp" transform="translate(248.12,412.50) scale(0.92,1)" x="0" y="0">Jingzhou</text>
<text class="gp" transform="translate(359.88,412.50) scale(0.92,1)" x="0" y="0">Wuhan</text>
<text class="gp" transform="translate(471.62,412.50) scale(0.92,1)" x="0" y="0">Yichang</text>
<text class="tt" id="t_AQI_0"  font-size="8.0" transform="translate(52.40,357.40) rotate(-90) scale(0.885,1)" x="0" y="0">AQI</text>
</g>
</svg></body></html>
